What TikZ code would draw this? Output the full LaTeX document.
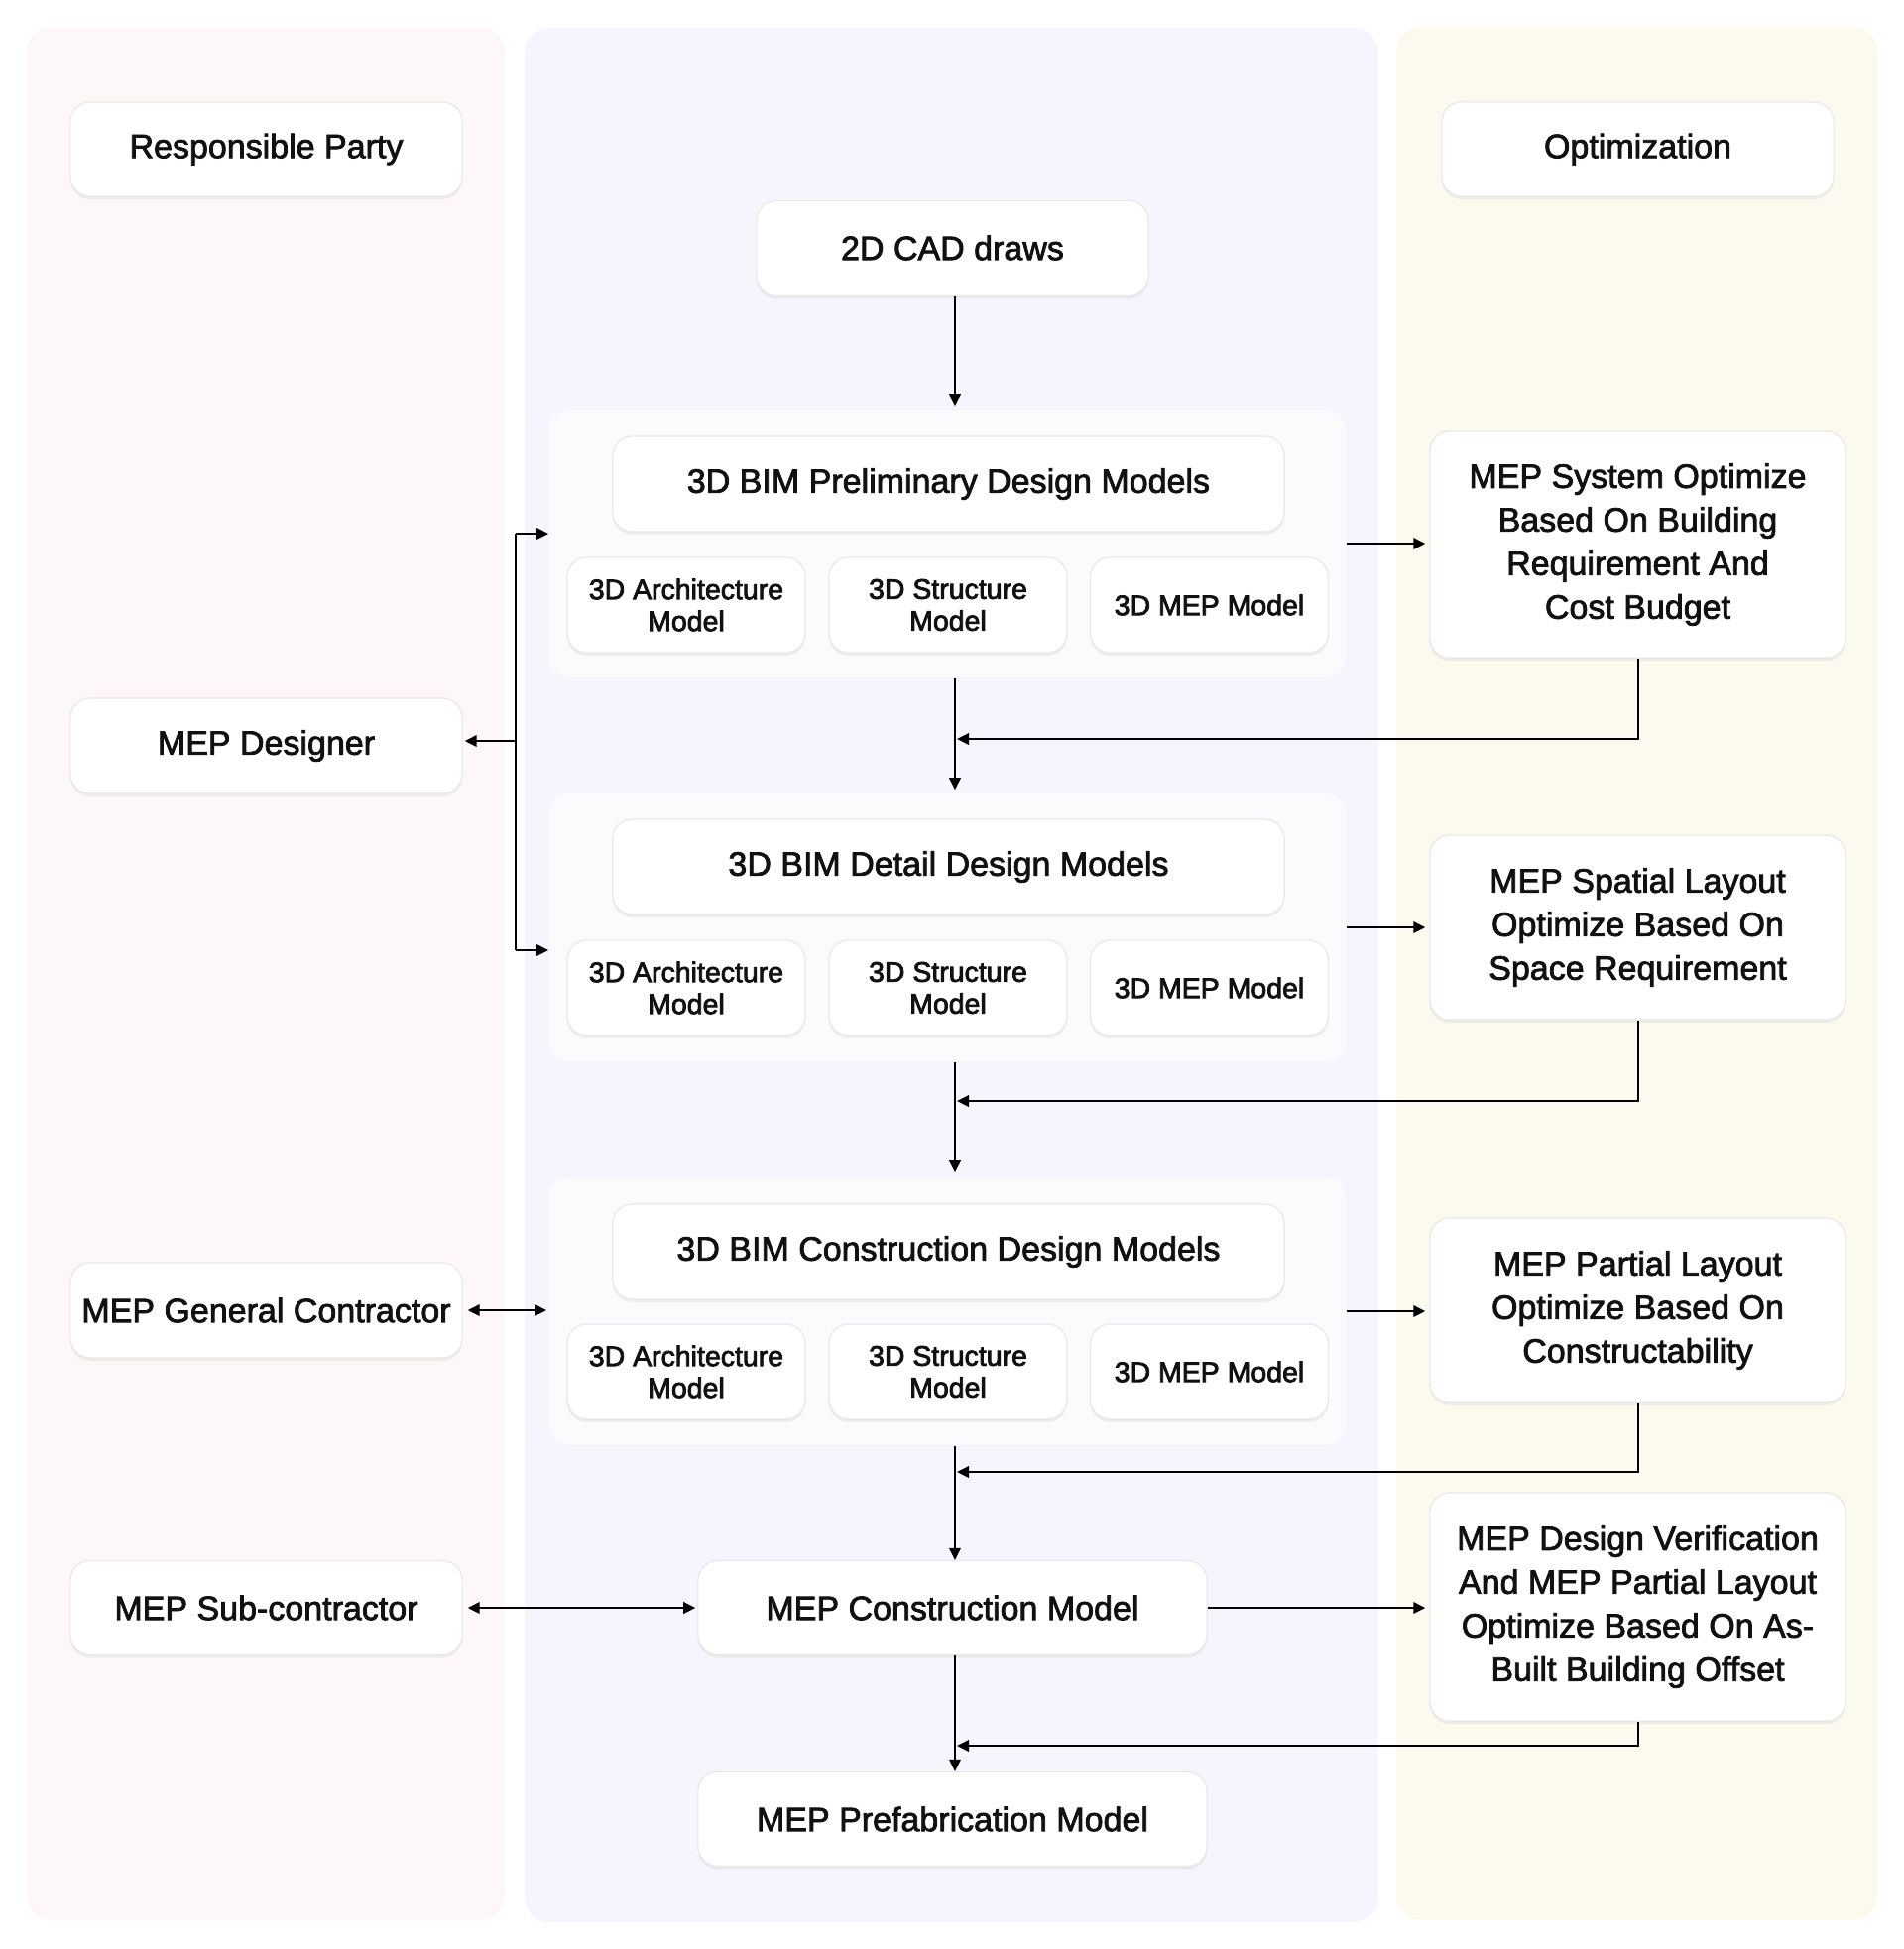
\documentclass[tikz,border=0pt]{standalone}
\usepackage{fontspec}
\setmainfont{Liberation Sans}
\newfontfamily\medf{Liberation Sans}
\usetikzlibrary{arrows.meta,shadows,calc}
\definecolor{leftbg}{HTML}{FEF7F7}
\definecolor{midbg}{HTML}{F6F5FD}
\definecolor{rightbg}{HTML}{FCF9EE}
\definecolor{contbg}{HTML}{FBFBFE}
\definecolor{ink}{HTML}{111111}
\newcommand{\embon}{\special{pdf:literal direct 0.067 G 0.22 w 2 Tr}}
\newcommand{\emboff}{\special{pdf:literal direct 0 Tr}}
\newcommand{\mainsz}{\medf\fontsize{9.67pt}{12.5pt}\selectfont}
\newcommand{\subsz}{\medf\fontsize{8.1pt}{9.1pt}\selectfont}
\tikzset{
  panel/.style={rounded corners=0.25cm, draw=none},
  box/.style={rectangle, rounded corners=0.2cm, fill=white, draw=black!9, line width=0.012cm,
    drop shadow={shadow xshift=0cm, shadow yshift=-0.03cm, opacity=0.10, fill=black!50},
    align=center, inner sep=0pt, text=ink, font=\mainsz,
    execute at begin node=\embon, execute at end node=\emboff},
  subbox/.style={box, font=\subsz, minimum width=2.40cm, minimum height=0.96cm},
  sidebox/.style={box, minimum width=3.95cm, minimum height=0.96cm},
  optbox/.style={box, minimum width=4.19cm},
  cont/.style={rectangle, rounded corners=0.2cm, fill=contbg, draw=none, minimum width=8.03cm, minimum height=2.70cm, inner sep=0pt},
  title/.style={box, minimum width=6.77cm, minimum height=0.96cm},
  line/.style={draw=black, line width=0.02cm},
  arr/.style={line, -{Triangle[length=0.12cm, width=0.115cm]}},
  darr/.style={line, {Triangle[length=0.12cm, width=0.115cm]}-{Triangle[length=0.12cm, width=0.115cm]}},
}
\begin{document}
\begin{tikzpicture}[x=0.01cm, y=-0.01cm]
\useasboundingbox (0,0) rectangle (1920,1965);
\fill[white] (0,0) rectangle (1920,1965);
% column panels
\fill[panel, leftbg] (27,27) rectangle (509,1936);
\fill[panel, midbg] (529,28) rectangle (1390,1938);
\fill[panel, rightbg] (1408,27) rectangle (1893,1936);

% headers
\node[sidebox, minimum height=0.95cm] (resp) at (268.5,150.5) {Responsible Party};
\node[sidebox, minimum height=0.95cm] (opt) at (1651.5,150.5) {Optimization};
\node[sidebox, minimum height=0.95cm] (cad) at (960.5,250) {2D CAD draws};

% group 1
\node[cont] (g1) at (955.5,548) {};
\node[title] (t1) at (956.5,488) {3D BIM Preliminary Design Models};
\node[subbox] (a1) at (692,610) {3D Architecture\\Model};
\node[subbox] (s1) at (956,610) {3D Structure\\Model};
\node[subbox] (m1) at (1219.5,610) {3D MEP Model};
% group 2
\node[cont] (g2) at (955.5,935) {};
\node[title] (t2) at (956.5,874) {3D BIM Detail Design Models};
\node[subbox] (a2) at (692,996) {3D Architecture\\Model};
\node[subbox] (s2) at (956,996) {3D Structure\\Model};
\node[subbox] (m2) at (1219.5,996) {3D MEP Model};
% group 3
\node[cont] (g3) at (955.5,1322) {};
\node[title] (t3) at (956.5,1262) {3D BIM Construction Design Models};
\node[subbox] (a3) at (692,1383) {3D Architecture\\Model};
\node[subbox] (s3) at (956,1383) {3D Structure\\Model};
\node[subbox] (m3) at (1219.5,1383) {3D MEP Model};

% construction / prefab
\node[box, minimum width=5.13cm, minimum height=0.95cm] (cons) at (960.5,1621) {MEP Construction Model};
\node[box, minimum width=5.13cm, minimum height=0.95cm] (pref) at (960.5,1834) {MEP Prefabrication Model};

% left parties
\node[sidebox] (des) at (268.5,752) {MEP Designer};
\node[sidebox] (gc) at (268.5,1321) {MEP General Contractor};
\node[sidebox, minimum height=0.95cm] (sub) at (268.5,1621) {MEP Sub-contractor};

% optimization boxes
\node[optbox, minimum height=2.28cm] (b1) at (1651.5,549) {MEP System Optimize\\Based On Building\\Requirement And\\Cost Budget};
\node[optbox, minimum height=1.86cm] (b2) at (1651.5,935) {MEP Spatial Layout\\Optimize Based On\\Space Requirement};
\node[optbox, minimum height=1.86cm] (b3) at (1651.5,1321) {MEP Partial Layout\\Optimize Based On\\Constructability};
\node[optbox, minimum height=2.30cm] (b4) at (1651.5,1620) {MEP Design Verification\\And MEP Partial Layout\\Optimize Based On As-\\Built Building Offset};

% main spine
\coordinate (sp) at (963,297);
\draw[arr, shorten >=0.03cm] (sp |- cad.south) -- (sp |- g1.north);
\draw[arr, shorten >=0.03cm] (sp |- g1.south) -- (sp |- g2.north);
\draw[arr, shorten >=0.04cm] (sp |- g2.south) -- (sp |- g3.north);
\draw[arr] (sp |- g3.south) -- (sp |- cons.north);
\draw[arr] (sp |- cons.south) -- (sp |- pref.north);

% to optimization
\draw[arr, shorten >=0.04cm] (g1.east) -- (b1.west |- g1.east);
\draw[arr, shorten >=0.04cm] (g2.east) -- (b2.west |- g2.east);
\draw[arr, shorten >=0.04cm] (g3.east) -- (b3.west |- g3.east);
\draw[arr, shorten >=0.04cm] (cons.east) -- (b4.west |- cons.east);

% feedback
\coordinate (f1) at (963,745);
\coordinate (f2) at (963,1110);
\coordinate (f3) at (963,1484);
\coordinate (f4) at (963,1760);
\draw[arr, shorten >=0.02cm] (b1.south) |- (f1);
\draw[arr, shorten >=0.02cm] (b2.south) |- (f2);
\draw[arr, shorten >=0.02cm] (b3.south) |- (f3);
\draw[arr, shorten >=0.02cm] (b4.south) |- (f4);

% designer
\coordinate (dtop) at (520,538);
\coordinate (dbot) at (520,958);
\coordinate (dmid) at (520,747);
\draw[line] (dtop) -- (dbot);
\draw[arr, shorten >=0.02cm] (dmid) -- (dmid -| des.east);
\draw[arr] (dtop) -- (dtop -| g1.west);
\draw[arr] (dbot) -- (dbot -| g2.west);

% two-way
\draw[darr, shorten <=0.05cm, shorten >=0.02cm] (gc.east) -- (gc.east -| g3.west);
\draw[darr, shorten <=0.05cm, shorten >=0.02cm] (sub.east) -- (cons.west);
\end{tikzpicture}
\end{document}
